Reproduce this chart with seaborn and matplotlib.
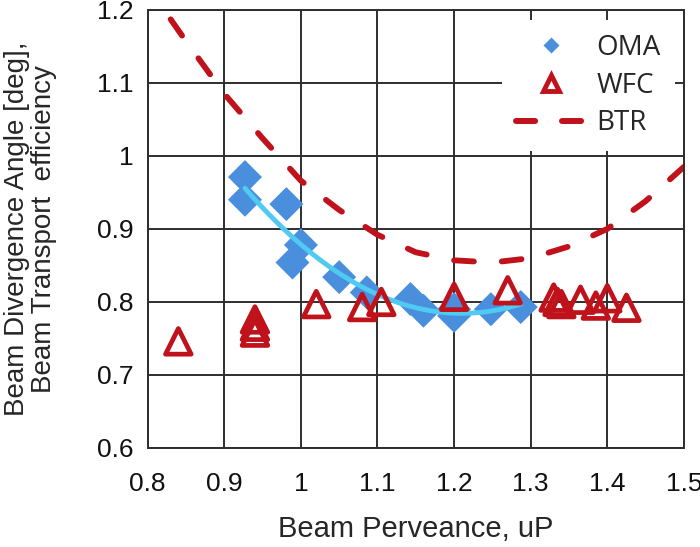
import numpy as np
import pandas as pd
import seaborn as sns
import matplotlib.pyplot as plt
from matplotlib.lines import Line2D

# OMA measurements (diamonds)
oma_x = [0.927, 0.927, 0.981, 1.0, 0.989, 1.05, 1.086, 1.143, 1.16, 1.2, 1.2, 1.248, 1.287]
oma_y = [0.971, 0.94, 0.934, 0.878, 0.854, 0.834, 0.813, 0.804, 0.788, 0.781, 0.79, 0.79, 0.793]

# WFC measurements (open triangles)
wfc_x = [0.84, 0.94, 0.94, 0.94, 1.02, 1.08, 1.105, 1.20, 1.27,
         1.33, 1.335, 1.34, 1.365, 1.385, 1.40, 1.425]
wfc_y = [0.746, 0.776, 0.766, 0.758, 0.797, 0.793, 0.80, 0.807, 0.816,
         0.806, 0.80, 0.797, 0.803, 0.795, 0.805, 0.792]

# BTR curve (dashed)
btr_x = [0.83, 0.85, 0.9, 0.95, 1.0, 1.05, 1.1, 1.15, 1.2, 1.25, 1.3, 1.35, 1.4, 1.45, 1.5]
btr_y = [1.187, 1.157, 1.085, 1.024, 0.966, 0.926, 0.892, 0.868, 0.857, 0.854,
         0.86, 0.876, 0.90, 0.938, 0.985]

x_ticks = [0.8, 0.9, 1.0, 1.1, 1.2, 1.3, 1.4, 1.5]
x_labels = ['0.8', '0.9', '1', '1.1', '1.2', '1.3', '1.4', '1.5']
y_ticks = [0.6, 0.7, 0.8, 0.9, 1.0, 1.1, 1.2]
y_labels = ['0.6', '0.7', '0.8', '0.9', '1', '1.1', '1.2']

sns.set_style('white')
plt.rcParams['font.family'] = ['Liberation Sans', 'DejaVu Sans']

fig = plt.figure(figsize=(7, 5.47), dpi=100)
ax = fig.add_axes([0.211, 0.181, 0.766, 0.801])

oma = pd.DataFrame({'x': oma_x, 'y': oma_y})
wfc = pd.DataFrame({'x': wfc_x, 'y': wfc_y})
btr = pd.DataFrame({'x': btr_x, 'y': btr_y})

blue = '#4A8EDE'
cyan = '#4FCAF0'
red = '#C0121B'

sns.lineplot(data=btr, x='x', y='y', ax=ax, color=red, lw=4.2,
             dashes=False, zorder=2)
ax.lines[-1].set_dashes((3.4, 4.8))
ax.lines[-1].set_dash_capstyle('round')

sns.scatterplot(data=oma, x='x', y='y', ax=ax, marker='D', s=300,
                color=blue, edgecolor='none', zorder=3)
sns.regplot(data=oma, x='x', y='y', ax=ax, order=2, ci=None, scatter=False,
            line_kws={'color': cyan, 'lw': 3.5, 'zorder': 4})
sns.scatterplot(data=wfc, x='x', y='y', ax=ax, marker='^', s=340,
                facecolor='none', edgecolor=red, linewidth=3.4, zorder=5)

ax.set_xlim(0.8, 1.5)
ax.set_ylim(0.6, 1.2)
ax.set_xticks(x_ticks)
ax.set_xticklabels(x_labels)
ax.set_yticks(y_ticks)
ax.set_yticklabels(y_labels)
ax.tick_params(axis='x', labelsize=19, length=0, pad=17, colors='#111111')
ax.tick_params(axis='y', labelsize=19, length=0, pad=10, colors='#111111')
ax.grid(True, color='#2e2e2e', lw=1.4)
for s in ax.spines.values():
    s.set_color('#2e2e2e')
    s.set_linewidth(1.4)

ax.set_xlabel('Beam Perveance, uP', fontsize=21, labelpad=14)
ax.set_ylabel('Beam Divergence Angle [deg],\nBeam Transport  efficiency',
              fontsize=20, labelpad=29, linespacing=1.05)

handles = [
    Line2D([], [], ls='none', marker='D', ms=8, color=blue, mec='none'),
    Line2D([], [], ls='none', marker='^', ms=12, mfc='none', mec=red, mew=3.5),
    Line2D([], [], color=red, lw=4.3, dashes=(3.2, 4.5), dash_capstyle='round'),
]
leg = ax.legend(handles, ['OMA', 'WFC', 'BTR'], loc='upper right',
                bbox_to_anchor=(0.983, 0.977), borderaxespad=0,
                frameon=True, fancybox=False,
                handlelength=2.55, labelspacing=0.35,
                borderpad=0.5, handletextpad=0.36, framealpha=1,
                prop={'family': 'Open Sans', 'size': 20})
leg.get_frame().set_edgecolor('none')
leg.get_frame().set_facecolor('white')

fig.savefig('out.png', dpi=100)
